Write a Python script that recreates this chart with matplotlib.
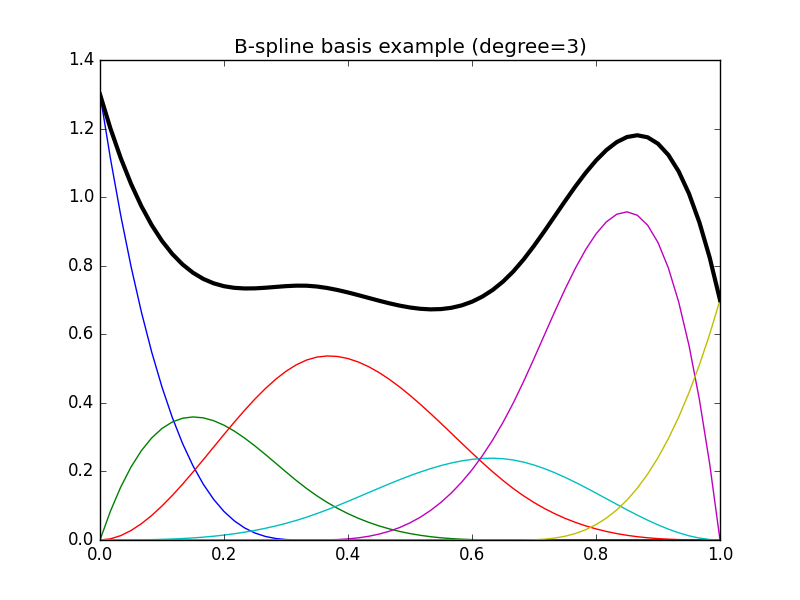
import matplotlib
matplotlib.use('Agg')
import matplotlib.pyplot as plt
import numpy as np

plt.style.use('classic')

# sample positions (61 points over [0, 1])
x = np.linspace(0, 1, 61)

blue = [1.3, 1.11459, 0.9477, 0.79836, 0.6656, 0.54844, 0.4459, 0.35701, 0.2808, 0.21629, 0.1625,
        0.11846, 0.0832, 0.05574, 0.0351, 0.02031, 0.0104, 0.00439, 0.0013, 0.00016, 0] + [0] * 40
green = [0, 0.08338, 0.15405, 0.21279, 0.2604, 0.29766, 0.32535, 0.34427, 0.3552, 0.35893, 0.35625,
         0.34794, 0.3348, 0.31761, 0.29715, 0.27422, 0.2496, 0.22408, 0.19845, 0.17349, 0.15,
         0.12861, 0.10935, 0.09212, 0.0768, 0.06328, 0.05145, 0.04119, 0.0324, 0.02496, 0.01875,
         0.01367, 0.0096, 0.00643, 0.00405, 0.00234, 0.0012, 0.00051, 0.00015, 0.00002, 0] + [0] * 20
red = [0, 0.00327, 0.01268, 0.02759, 0.0474, 0.07148, 0.09923, 0.13, 0.1632, 0.1982, 0.23438,
       0.27112, 0.3078, 0.34381, 0.37852, 0.41133, 0.4416, 0.46872, 0.49208, 0.51104, 0.525,
       0.53351, 0.53678, 0.53521, 0.5292, 0.51914, 0.50542, 0.48845, 0.4686, 0.44628, 0.42188,
       0.39578, 0.3684, 0.34012, 0.31133, 0.28242, 0.2538, 0.22586, 0.19897, 0.17357, 0.15,
       0.12861, 0.10935, 0.09212, 0.0768, 0.06328, 0.05145, 0.04119, 0.0324, 0.02496, 0.01875,
       0.01367, 0.0096, 0.00643, 0.00405, 0.00234, 0.0012, 0.00051, 0.00015, 0.00002, 0]
cyan = [0, 0.00001, 0.00007, 0.00022, 0.00053, 0.00104, 0.0018, 0.00286, 0.00427, 0.00608, 0.00833,
        0.01109, 0.0144, 0.01831, 0.02287, 0.02812, 0.03413, 0.04094, 0.0486, 0.05716, 0.06667,
        0.07714, 0.08843, 0.10038, 0.1128, 0.12552, 0.13837, 0.15116, 0.16373, 0.1759, 0.1875,
        0.19835, 0.20827, 0.21709, 0.22463, 0.23073, 0.2352, 0.23787, 0.23857, 0.23711, 0.23333,
        0.22713, 0.2187, 0.20832, 0.19627, 0.18281, 0.16823, 0.1528, 0.1368, 0.1205, 0.10417,
        0.08809, 0.07253, 0.05778, 0.0441, 0.03177, 0.02107, 0.01226, 0.00563, 0.00145, 0]
magenta = [0] * 21 + [0.00005, 0.0004, 0.00135, 0.0032, 0.00625, 0.0108, 0.01715, 0.0256, 0.03645, 0.05,
                      0.06655, 0.0864, 0.10986, 0.1372, 0.16875, 0.2048, 0.24565, 0.2916, 0.34294, 0.4,
                      0.46266, 0.5292, 0.59755, 0.6656, 0.73125, 0.7924, 0.84694, 0.8928, 0.92786, 0.95,
                      0.95715, 0.9472, 0.91805, 0.8676, 0.79374, 0.6944, 0.56746, 0.4108, 0.22235, 0]
yellow = [0] * 41 + [0.00009, 0.0007, 0.00236, 0.0056, 0.01094, 0.0189, 0.03001, 0.0448, 0.06379, 0.0875,
                     0.11646, 0.1512, 0.19224, 0.2401, 0.29531, 0.3584, 0.42989, 0.5103, 0.60016, 0.7]
total = [1.3, 1.20125, 1.1145, 1.03896, 0.97393, 0.91862, 0.87228, 0.83414, 0.80347, 0.7795, 0.76146,
         0.74861, 0.7402, 0.73547, 0.73364, 0.73398, 0.73573, 0.73813, 0.74043, 0.74185, 0.74167,
         0.73931, 0.73496, 0.72906, 0.722, 0.71419, 0.70604, 0.69795, 0.69033, 0.68359, 0.67813,
         0.67435, 0.67267, 0.6735, 0.67721, 0.68424, 0.695, 0.70989, 0.72929, 0.75364, 0.78333,
         0.81849, 0.85795, 0.90035, 0.94427, 0.98828, 1.03098, 1.07094, 1.1068, 1.13711, 1.16042,
         1.17537, 1.18053, 1.1745, 1.15585, 1.12316, 1.07507, 1.01012, 0.92688, 0.82398, 0.7]

fig = plt.figure(figsize=(8, 6), dpi=100, facecolor='white')
ax = fig.add_subplot(1, 1, 1)

for ys, col in zip([blue, green, red, cyan, magenta, yellow], ['b', 'g', 'r', 'c', 'm', 'y']):
    ax.plot(x, ys, color=col, linewidth=1)
ax.plot(x, total, color='k', linewidth=3)

ax.set_xlim(0, 1)
ax.set_ylim(0, 1.4)
ax.set_title('B-spline basis example (degree=3)')

fig.savefig('out.png', dpi=100, facecolor='white')
